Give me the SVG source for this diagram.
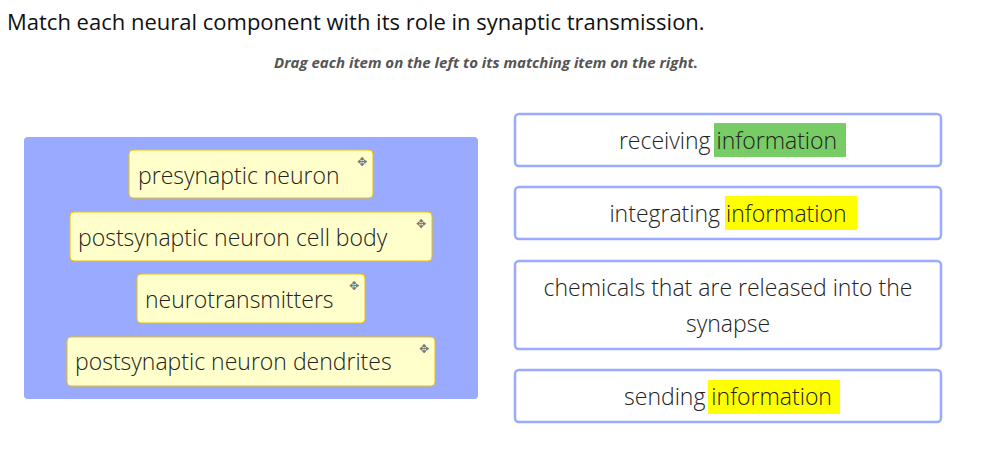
<svg xmlns="http://www.w3.org/2000/svg" width="982" height="464" viewBox="0 0 982 464">
<style>
.t{font-family:"Open Sans","Liberation Sans",sans-serif;font-weight:300;font-size:23px;fill:#222}
.it{fill:#ffffcc;stroke:#f0c000;stroke-width:1}
.tg{fill:#fff;stroke:#99aaff;stroke-width:2.5}
.mv{font-family:"DejaVu Sans",sans-serif;font-size:12px;fill:#777}
</style>
<rect width="982" height="464" fill="#fff"/>
<text x="7" y="30" font-family="Open Sans, Liberation Sans, sans-serif" font-size="22" fill="#111">Match each neural component with its role in synaptic transmission.</text>
<text x="486" y="68" text-anchor="middle" font-family="Open Sans, Liberation Sans, sans-serif" font-size="15" font-weight="bold" font-style="italic" fill="#555">Drag each item on the left to its matching item on the right.</text>
<rect x="24" y="137" width="454" height="262" rx="4" fill="#99aaff"/>
<g id="item1"><rect class="it" x="129" y="150" width="244" height="48" rx="4"/><text class="t" x="138" y="184">presynaptic neuron</text><text class="mv" x="357" y="166">✥</text></g>
<g id="item2"><rect class="it" x="70" y="212" width="362" height="49" rx="4"/><text class="t" x="78" y="246">postsynaptic neuron cell body</text><text class="mv" x="416" y="228">✥</text></g>
<g id="item3"><rect class="it" x="137" y="274" width="228" height="49" rx="4"/><text class="t" x="145" y="308">neurotransmitters</text><text class="mv" x="349" y="290">✥</text></g>
<g id="item4"><rect class="it" x="67" y="337" width="368" height="49" rx="4"/><text class="t" x="75" y="370">postsynaptic neuron dendrites</text><text class="mv" x="419" y="353">✥</text></g>
<g id="target1"><rect class="tg" x="515" y="114" width="426" height="52" rx="4"/><rect x="714" y="123" width="132" height="34" fill="#77cc66"/><text class="t" x="728" y="149" text-anchor="middle">receiving information</text></g>
<g id="target2"><rect class="tg" x="515" y="187" width="426" height="52" rx="4"/><rect x="725" y="196" width="132" height="34" fill="#ffff00"/><text class="t" x="728" y="222" text-anchor="middle">integrating information</text></g>
<g id="target3"><rect class="tg" x="515" y="261" width="426" height="88" rx="4"/><text class="t" x="728" y="296" text-anchor="middle">chemicals that are released into the</text><text class="t" x="728" y="332" text-anchor="middle">synapse</text></g>
<g id="target4"><rect class="tg" x="515" y="370" width="426" height="52" rx="4"/><rect x="708" y="380" width="132" height="34" fill="#ffff00"/><text class="t" x="728" y="405" text-anchor="middle">sending information</text></g>
<g id="connectors"/>
</svg>
